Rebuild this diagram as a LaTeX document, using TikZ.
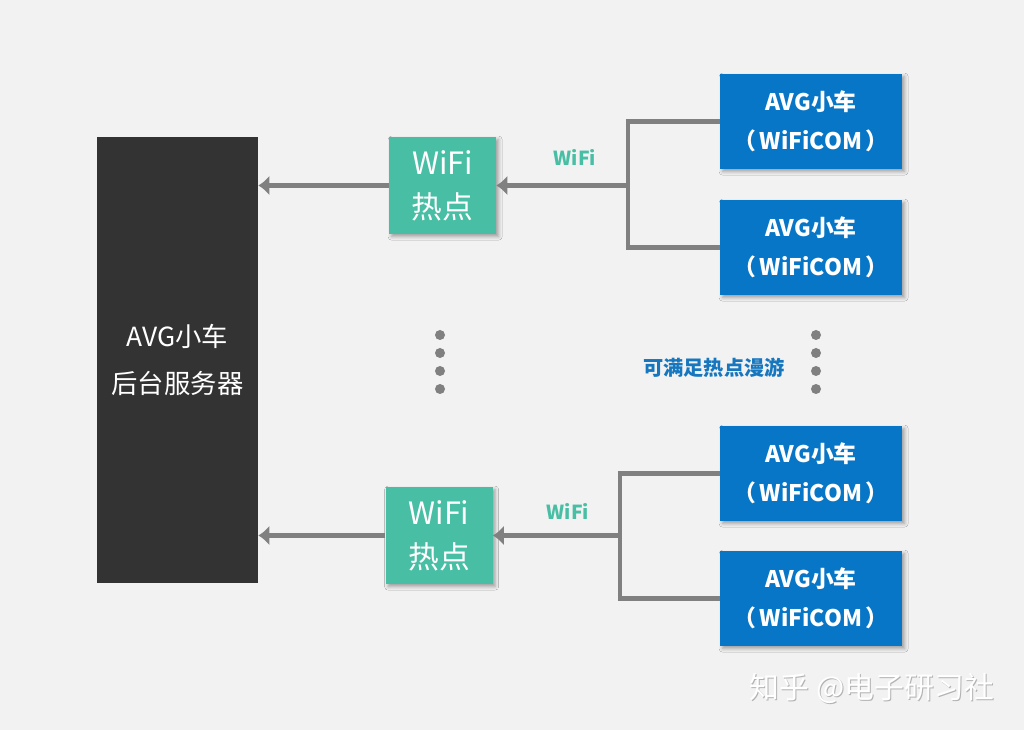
\documentclass[tikz,border=0pt]{standalone}
\usepackage{fontspec}
\setmainfont{Noto Sans CJK SC}
\usetikzlibrary{arrows.meta,positioning,shadows.blur}
\definecolor{bggray}{RGB}{242,242,242}
\definecolor{servergray}{RGB}{51,51,51}
\definecolor{teal}{RGB}{72,191,164}
\definecolor{carblue}{RGB}{8,118,198}
\definecolor{linegray}{RGB}{128,128,128}
\definecolor{textblue}{RGB}{22,119,190}

\tikzset{
  boxshadow/.style={blur shadow={shadow xshift=1.5pt, shadow yshift=-1.5pt, shadow blur radius=2pt, shadow opacity=35}},
  server/.style={fill=servergray, text=white, minimum width=3.22cm, minimum height=8.92cm, align=center, font=\fontsize{15}{27}\selectfont},
  hotspot/.style={fill=teal, text=white, minimum width=2.14cm, minimum height=1.94cm, align=center, boxshadow, font=\fontsize{17.5}{25}\selectfont},
  car/.style={fill=carblue, text=white, minimum width=3.64cm, minimum height=1.9cm, align=center, boxshadow, font=\bfseries\fontsize{13}{22}\selectfont},
  link/.style={draw=linegray, line width=2.8pt},
  feed/.style={link, -{Latex[length=2.2mm, width=4mm]}},
  wifilabel/.style={text=teal, font=\bfseries\fontsize{11}{13}\selectfont},
}
\newcommand{\carlabel}{AVG小车\\（\,WiFiCOM\,）}

\begin{document}
\begin{tikzpicture}
\fill[bggray] (0,0) rectangle (20.48,14.6);
\useasboundingbox (0,0) rectangle (20.48,14.6);

% server and hotspots
\node[server] (srv) at (3.55,7.4) {AVG小车\\后台服务器};
\node[hotspot] (hot1) at (8.85,10.89) {WiFi\\热点};
\node[hotspot] (hot2) at (8.78,3.89) {WiFi\\热点};

% cars
\node[car] (car1) at (16.22,12.17) {\carlabel};
\node[car] (car2) at (16.22,9.65) {\carlabel};
\node[car] (car3) at (16.22,5.13) {\carlabel};
\node[car] (car4) at (16.22,2.63) {\carlabel};

% junctions
\coordinate (j1) at (12.56,10.89);
\coordinate (j2) at (12.4,3.89);

\draw[link] (car1.west) -| (j1) |- (car2.west);
\draw[link] (car3.west) -| (j2) |- (car4.west);
\draw[feed] (j1) -- (hot1.east);
\draw[feed] (j2) -- (hot2.east);
\draw[feed] (hot1.west) -- (hot1.west -| srv.east);
\draw[feed] (hot2.west) -- (hot2.west -| srv.east);

\node[wifilabel] (w1) at (11.5,11.46) {WiFi};
\node[wifilabel] (w2) at (11.36,4.38) {WiFi};

% dots
\foreach \y in {7.9,7.54,7.18,6.82} {
  \fill[linegray] (8.8,\y) circle (0.1);
  \fill[linegray] (16.32,\y) circle (0.1);
}
\node[text=textblue, font=\bfseries\fontsize{11.5}{13}\selectfont] (roam) at (14.28,7.24) {可满足热点漫游};

% watermark
\node[text=gray!60, font=\fontsize{17}{20}\selectfont] at (17.46,0.82) {知乎 @电子研习社};
\node[text=white, font=\fontsize{17}{20}\selectfont] (mark) at (17.44,0.84) {知乎 @电子研习社};
\end{tikzpicture}
\end{document}
